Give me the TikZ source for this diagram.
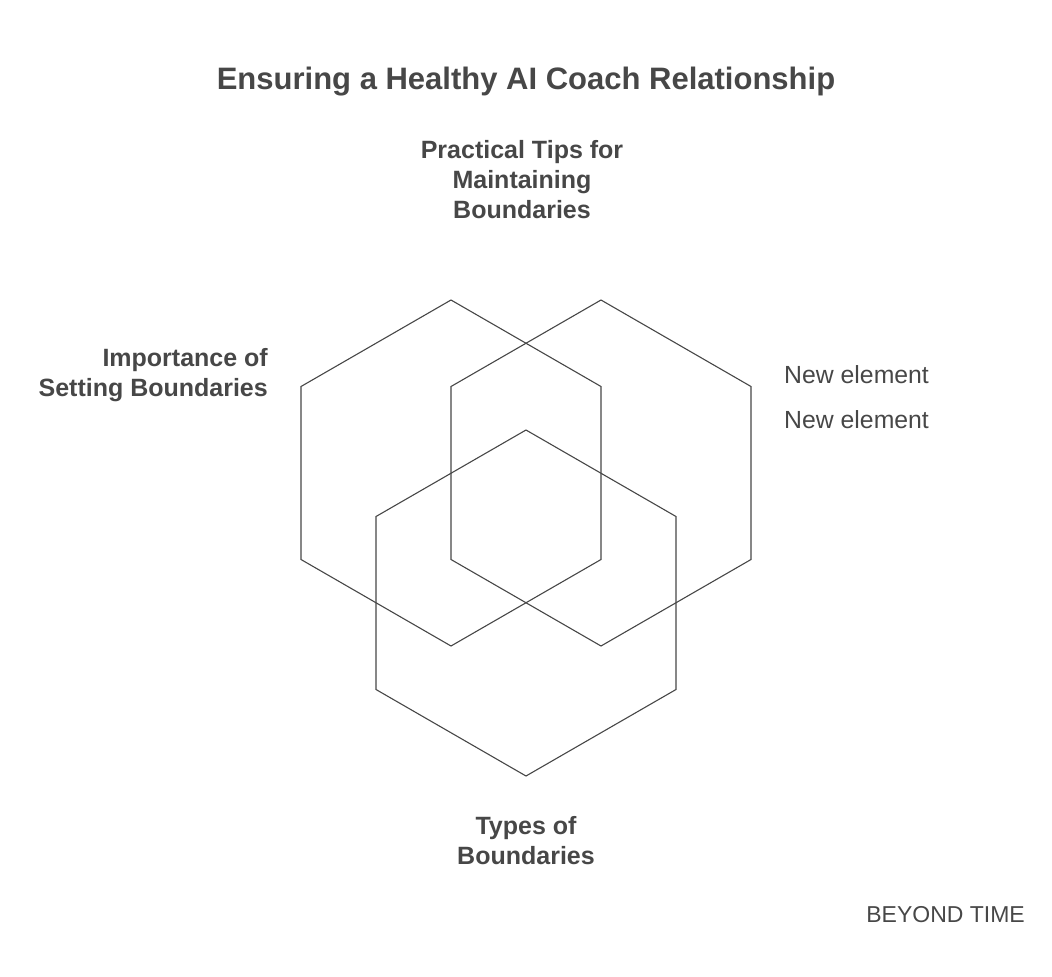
\documentclass[tikz,border=0pt]{standalone}
\usepackage{fontspec}
\setmainfont{Liberation Sans}
\begin{document}
\begin{tikzpicture}[x=1pt,y=-1pt,
  hexline/.style={draw=black!72, line width=1.1pt, line join=miter},
  boldlabel/.style={text=black!72, font=\bfseries\fontsize{25}{30}\selectfont, align=center, inner sep=0pt},
  plainlabel/.style={text=black!72, font=\fontsize{24.8}{28}\selectfont, inner sep=0pt}]
\useasboundingbox (0,0) rectangle (1052,977);
% hexagons
\draw[hexline] (451,300) -- (601,386.5) -- (601,559.5) -- (451,646) -- (301,559.5) -- (301,386.5) -- cycle;
\draw[hexline] (601,300) -- (751,386.5) -- (751,559.5) -- (601,646) -- (451,559.5) -- (451,386.5) -- cycle;
\draw[hexline] (526,430) -- (676,516.5) -- (676,689.5) -- (526,776) -- (376,689.5) -- (376,516.5) -- cycle;
% texts
\node[boldlabel, font=\bfseries\fontsize{31}{36}\selectfont] (title) at (526,82) {Ensuring a Healthy AI Coach Relationship};
\node[boldlabel] (tips) at (522,180) {Practical Tips for\\Maintaining\\Boundaries};
\node[boldlabel, align=right, anchor=east] (imp) at (268,375) {Importance of\\Setting Boundaries};
\node[plainlabel, anchor=west] (ne1) at (784,375) {New element};
\node[plainlabel, anchor=west] (ne2) at (784,420) {New element};
\node[boldlabel] (types) at (526,840.5) {Types of\\Boundaries};
\node[plainlabel, font=\fontsize{23}{28}\selectfont, anchor=east] (brand) at (1025,915) {BEYOND TIME};
\end{tikzpicture}
\end{document}
